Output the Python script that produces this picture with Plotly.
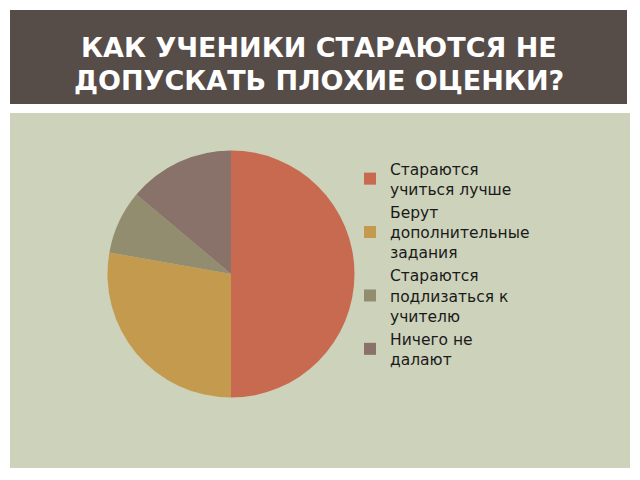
import plotly.graph_objects as go

labels = ["Стараются<br>учиться лучше", "Берут<br>дополнительные<br>задания",
          "Стараются<br>подлизаться к<br>учителю", "Ничего не<br>далают"]
values = [18, 10, 3, 5]
colors = ["#C86A50", "#C49A4E", "#938D70", "#887269"]
title_lines = ["КАК УЧЕНИКИ СТАРАЮТСЯ НЕ", "ДОПУСКАТЬ ПЛОХИЕ ОЦЕНКИ?"]

W, H = 640, 480
cx, cy, r = 231, 274, 123.5

fig = go.Figure(go.Pie(
    labels=labels, values=values, sort=False, direction="clockwise", rotation=0,
    marker=dict(colors=colors, line=dict(width=0)),
    textinfo="none", hoverinfo="none",
    domain=dict(x=[(cx - r) / W, (cx + r) / W], y=[(H - cy - r) / H, (H - cy + r) / H]),
))

title_y = [47.5, 81]
fig.update_layout(
    width=W, height=H, margin=dict(l=0, r=0, t=0, b=0),
    paper_bgcolor="white",
    showlegend=True,
    legend=dict(x=350 / W, y=(H - 152) / H, xanchor="left", yanchor="top",
                font=dict(family="DejaVu Sans", size=15.5, color="#1a1a1a"),
                bgcolor="rgba(0,0,0,0)", itemwidth=30),
    shapes=[
        dict(type="rect", xref="paper", yref="paper", x0=10 / W, x1=627 / W,
             y0=(H - 104) / H, y1=(H - 10) / H, fillcolor="#564C48", line=dict(width=0), layer="below"),
        dict(type="rect", xref="paper", yref="paper", x0=10 / W, x1=630 / W,
             y0=(H - 468) / H, y1=(H - 113) / H, fillcolor="#CDD2BA", line=dict(width=0), layer="below"),
    ],
    annotations=[dict(text="<b>" + t + "</b>", xref="paper", yref="paper",
                      x=319 / W, y=(H - yy) / H, xanchor="center", yanchor="middle",
                      showarrow=False, align="center",
                      font=dict(family="DejaVu Sans", size=27, color="white"))
                 for t, yy in zip(title_lines, title_y)],
)

fig.write_html("out.html", config={"displayModeBar": False},
               post_script="document.body.style.margin='0';")
